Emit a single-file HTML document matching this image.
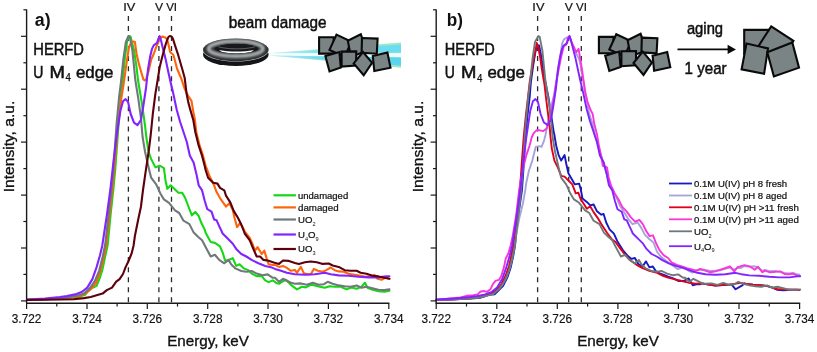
<!DOCTYPE html>
<html><head><meta charset="utf-8"><title>HERFD U M4 edge</title>
<style>html,body{margin:0;padding:0;background:#fff}svg{display:block;filter:blur(0.3px)}text{font-family:"Liberation Sans",sans-serif;fill:#111}</style>
</head><body>
<svg width="817" height="352" viewBox="0 0 817 352">
<defs>
<linearGradient id="rg" x1="0" y1="0" x2="0" y2="1"><stop offset="0" stop-color="#3a3d3e"/><stop offset="0.18" stop-color="#7d8284"/><stop offset="0.36" stop-color="#4a4d4f"/><stop offset="0.6" stop-color="#2a2c2d"/><stop offset="0.8" stop-color="#3c3f40"/><stop offset="1" stop-color="#1c1d1e"/></linearGradient>
<linearGradient id="rh" x1="0" y1="0" x2="1" y2="0"><stop offset="0" stop-color="#222" stop-opacity="0.75"/><stop offset="0.2" stop-color="#222" stop-opacity="0"/><stop offset="0.8" stop-color="#222" stop-opacity="0"/><stop offset="1" stop-color="#222" stop-opacity="0.75"/></linearGradient>
<clipPath id="ringclip"><ellipse cx="235.8" cy="49.7" rx="32.8" ry="11.3"/></clipPath><clipPath id="holeclip"><ellipse cx="236.5" cy="48.7" rx="21.8" ry="4.7"/></clipPath><filter id="rblur" x="-20%" y="-50%" width="140%" height="200%"><feGaussianBlur stdDeviation="1.3"/></filter>
<linearGradient id="bfade" x1="268" y1="0" x2="335" y2="0" gradientUnits="userSpaceOnUse"><stop offset="0" stop-color="#fff" stop-opacity="0.6"/><stop offset="1" stop-color="#fff" stop-opacity="0"/></linearGradient>
</defs>
<rect width="817" height="352" fill="#fff"/>
<g id="panelA">
<path d="M128.4,15.9 V303.2" stroke="#2a2a2a" stroke-width="1.3" stroke-dasharray="5 5.05" fill="none"/>
<path d="M158.9,15.9 V303.2" stroke="#2a2a2a" stroke-width="1.3" stroke-dasharray="5 5.05" fill="none"/>
<path d="M171.5,15.9 V303.2" stroke="#2a2a2a" stroke-width="1.3" stroke-dasharray="5 5.05" fill="none"/>
<g id="beam">
<polygon points="268.5,53.3 401,42.5 401,53.6" fill="#9fe8c4"/>
<polygon points="268.5,53.3 401,44.6 401,52.6" fill="#6cdcf0"/>
<polygon points="268.5,53.5 401,53.6 401,57.4 268.5,55.6" fill="#effcfe"/>
<polygon points="268.5,55.6 401,57.2 401,67.7" fill="#9fe8c4"/>
<polygon points="268.5,55.6 401,57.4 401,65.8" fill="#5ad5ef"/>
<polygon points="268,50 340,44 340,64 268,58" fill="url(#bfade)"/>
</g>
<polyline points="27.0,299.8 45.0,299.3 60.0,298.6 70.0,298.0 78.7,297.0 85.6,294.4 89.8,288.4 93.2,287.6 96.6,285.9 100.0,277.4 102.6,268.9 105.1,256.9 107.7,245.0 110.5,215.6 113.3,190.0 115.2,170.0 117.0,146.0 118.5,125.0 120.8,97.0 122.5,82.0 124.8,59.0 127.0,42.0 128.8,36.0 130.5,36.5 134.1,50.6 136.6,67.6 138.0,80.0 141.7,102.1 145.1,126.0 146.3,137.0 148.6,152.0 151.1,158.9 155.4,167.4 159.6,165.7 163.9,168.2 165.6,181.0 167.3,188.7 170.7,185.3 175.0,189.5 178.4,192.8 182.2,192.8 185.2,198.0 188.6,207.0 191.9,215.3 195.3,211.9 198.7,216.0 201.3,222.8 204.7,229.6 205.6,232.7 210.7,242.0 214.9,242.9 220.0,246.3 222.6,252.3 225.1,260.8 228.6,259.9 232.8,258.2 236.2,265.9 239.6,264.2 243.9,268.4 248.1,270.1 251.6,273.6 256.7,276.1 261.8,276.1 265.2,280.4 268.6,282.1 272.8,280.4 276.3,282.9 279.0,283.8 282.0,281.8 285.9,279.8 290.9,284.8 296.9,289.4 301.9,286.8 305.8,287.4 310.8,284.8 314.8,285.4 319.8,286.8 324.8,287.8 329.7,286.2 334.7,286.8 340.7,286.8 346.6,289.4 351.6,287.4 356.6,288.8 361.6,286.8 365.0,282.8 367.5,287.8 372.5,289.8 378.5,291.3 384.5,291.7 389.4,290.7" fill="none" stroke="#14d814" stroke-width="2.1" stroke-linejoin="round" stroke-linecap="round"/>
<polyline points="27.0,299.8 45.0,299.2 60.0,298.5 70.0,297.6 80.0,296.0 86.0,293.0 90.7,289.3 95.8,283.3 100.0,272.3 103.4,258.6 106.3,245.0 109.4,215.6 112.3,190.0 114.2,170.0 116.2,146.0 117.8,125.0 119.6,112.4 121.3,98.7 123.9,82.0 126.4,64.2 129.0,47.1 131.5,42.0 133.2,41.5 134.9,42.0 136.6,54.0 138.3,61.6 140.9,71.0 143.4,79.5 144.6,80.4 146.0,79.5 148.6,71.0 151.1,59.9 153.7,54.0 156.2,47.1 158.8,41.2 161.3,36.9 163.0,36.6 165.6,37.8 167.3,39.5 169.0,47.1 170.2,52.3 173.3,54.8 175.0,60.8 177.0,68.5 181.3,78.7 184.7,89.0 188.1,95.8 191.5,100.9 193.2,111.1 194.9,119.6 196.3,132.0 199.7,145.7 203.1,155.9 205.7,166.1 207.3,170.0 209.8,176.8 214.1,185.3 216.6,192.1 220.0,198.1 226.0,206.6 229.4,203.2 232.8,210.0 234.5,217.7 237.1,227.1 239.6,223.7 242.2,226.2 245.0,232.0 249.8,237.8 252.4,243.7 255.0,250.6 257.5,247.1 261.8,254.0 264.3,250.6 266.9,259.1 268.6,264.2 272.8,265.0 275.0,264.9 279.0,266.9 283.0,265.9 286.9,267.9 290.9,270.8 294.9,269.9 296.9,272.8 300.9,266.9 303.9,273.4 307.8,274.2 310.8,274.2 313.8,268.9 317.8,270.8 322.8,271.8 326.7,269.9 330.7,267.5 334.7,270.2 338.7,271.4 343.7,271.8 348.6,273.8 354.6,274.8 360.6,275.8 365.5,276.8 370.5,276.2 374.5,274.8 377.5,278.8 381.5,279.8 385.4,277.8 389.4,278.8" fill="none" stroke="#ff640a" stroke-width="2.1" stroke-linejoin="round" stroke-linecap="round"/>
<polyline points="27.0,299.8 45.0,299.2 60.0,298.5 70.0,297.3 77.0,295.8 83.9,293.6 89.8,288.4 94.9,280.8 99.2,270.6 102.6,256.9 105.1,245.0 108.5,215.6 111.4,190.0 113.3,170.0 115.0,146.0 116.5,125.0 119.1,97.0 121.0,82.0 123.4,59.0 125.9,42.0 128.4,36.1 129.8,36.9 132.4,50.6 134.1,67.6 135.3,80.0 138.3,98.7 140.9,117.5 142.6,137.0 145.1,152.0 148.6,167.4 151.1,177.6 156.2,184.4 160.5,193.8 163.9,199.4 169.0,202.8 175.0,210.4 179.2,213.0 183.5,220.7 189.4,224.1 193.7,232.6 198.0,236.8 202.1,240.3 205.6,247.1 210.7,256.5 214.9,254.8 219.2,259.9 224.3,263.3 228.6,259.9 231.1,264.2 235.4,268.4 241.3,271.0 246.4,271.8 251.6,271.0 256.7,273.6 262.6,275.3 267.7,274.4 272.8,277.8 275.0,277.8 279.0,281.8 283.0,278.8 286.9,280.8 290.9,282.8 294.9,283.8 300.9,283.4 306.8,284.8 312.8,282.8 318.8,284.8 323.8,284.2 327.7,281.8 332.7,283.8 338.7,285.4 344.7,286.2 350.6,286.8 356.6,285.4 361.6,287.8 366.5,286.8 372.5,288.2 378.5,289.8 384.5,290.1 389.4,289.4" fill="none" stroke="#70787a" stroke-width="2.1" stroke-linejoin="round" stroke-linecap="round"/>
<polyline points="27.0,299.5 45.0,298.5 60.0,297.0 66.8,296.1 75.3,294.4 82.1,291.8 87.3,287.6 92.4,279.1 96.6,267.1 100.0,255.2 102.2,246.0 106.8,215.6 110.3,190.0 113.6,160.6 116.5,137.0 120.4,110.7 123.0,101.3 125.6,99.1 128.1,102.1 130.7,114.0 134.0,122.6 137.5,125.1 140.9,120.0 143.4,105.5 146.0,88.0 148.0,69.3 150.3,55.7 152.0,48.9 153.7,45.4 157.1,42.9 158.4,38.6 159.6,36.1 161.0,40.3 162.2,45.4 165.6,59.1 168.1,71.0 170.3,81.0 173.3,93.6 176.6,109.2 180.0,121.5 183.5,132.0 186.8,142.0 189.8,155.5 193.6,162.5 196.5,174.4 198.7,185.3 202.1,190.4 204.7,200.7 207.3,209.2 211.5,211.7 214.1,219.4 216.6,220.3 219.2,226.2 220.9,229.6 222.6,233.5 227.7,238.6 232.8,243.7 236.2,248.9 241.3,254.0 246.4,256.5 251.6,259.9 258.4,263.3 265.2,265.9 272.0,267.6 275.0,268.9 281.0,270.8 286.9,272.8 294.9,274.2 304.9,274.8 314.8,274.2 324.8,272.8 330.7,274.2 338.7,275.4 348.6,275.8 358.6,276.8 368.5,277.4 378.5,277.4 386.4,276.4 389.4,276.2" fill="none" stroke="#8124ff" stroke-width="2.1" stroke-linejoin="round" stroke-linecap="round"/>
<polyline points="27.0,300.0 45.0,299.8 60.0,299.5 73.6,299.2 83.9,298.1 90.7,297.0 96.6,295.3 102.6,293.6 106.8,290.1 112.0,287.6 116.2,281.6 119.6,279.1 123.0,274.0 125.6,267.1 128.1,262.0 131.6,253.5 133.5,246.0 134.9,236.0 138.3,219.0 140.9,207.0 143.0,190.0 146.0,169.1 148.6,152.0 150.7,135.0 152.8,114.0 155.4,93.6 157.5,81.0 159.6,67.6 161.7,59.1 163.9,50.6 165.6,44.6 167.3,39.5 168.7,36.6 169.8,36.1 171.6,36.6 172.9,38.6 175.0,45.4 178.4,55.7 180.2,62.0 182.1,68.5 184.7,78.0 186.6,93.8 188.3,102.4 190.7,111.1 193.2,119.6 195.3,132.0 198.7,145.7 202.1,155.9 204.7,166.1 205.6,170.0 208.1,177.7 213.2,182.8 217.5,183.6 220.0,187.9 224.3,190.4 226.0,195.6 230.3,202.4 233.7,210.9 237.9,217.7 241.3,224.5 244.7,233.5 249.8,240.3 253.3,248.9 256.7,256.5 260.1,256.5 263.5,259.9 268.6,260.8 273.7,262.5 279.0,263.9 283.0,260.5 288.9,260.9 294.9,262.9 298.9,263.9 304.9,262.3 310.8,261.5 316.8,262.3 322.8,263.9 328.7,263.5 332.7,265.5 338.7,266.9 344.7,270.2 350.6,270.8 356.6,270.8 360.6,272.8 366.5,273.8 372.5,275.8 378.5,276.4 384.5,277.8 389.4,278.8" fill="none" stroke="#5c000d" stroke-width="2.1" stroke-linejoin="round" stroke-linecap="round"/>
<path d="M26.6,9.4 V303.2" stroke="#1a1a1a" stroke-width="1.4" fill="none"/>
<path d="M26.0,303.2 H389.4" stroke="#1a1a1a" stroke-width="1.4" fill="none"/>
<path d="M21.0,36.3 H26.6" stroke="#1a1a1a" stroke-width="1.2"/>
<path d="M21.0,89.2 H26.6" stroke="#1a1a1a" stroke-width="1.2"/>
<path d="M21.0,142.1 H26.6" stroke="#1a1a1a" stroke-width="1.2"/>
<path d="M21.0,195.1 H26.6" stroke="#1a1a1a" stroke-width="1.2"/>
<path d="M21.0,248.0 H26.6" stroke="#1a1a1a" stroke-width="1.2"/>
<path d="M21.0,300.9 H26.6" stroke="#1a1a1a" stroke-width="1.2"/>
<path d="M23.4,9.8 H26.6" stroke="#1a1a1a" stroke-width="1.2"/>
<path d="M23.4,62.8 H26.6" stroke="#1a1a1a" stroke-width="1.2"/>
<path d="M23.4,115.7 H26.6" stroke="#1a1a1a" stroke-width="1.2"/>
<path d="M23.4,168.6 H26.6" stroke="#1a1a1a" stroke-width="1.2"/>
<path d="M23.4,221.5 H26.6" stroke="#1a1a1a" stroke-width="1.2"/>
<path d="M23.4,274.4 H26.6" stroke="#1a1a1a" stroke-width="1.2"/>
<path d="M26.6,303.2 V309.1" stroke="#1a1a1a" stroke-width="1.2"/>
<path d="M56.8,303.2 V306.5" stroke="#1a1a1a" stroke-width="1.2"/>
<path d="M87.0,303.2 V309.1" stroke="#1a1a1a" stroke-width="1.2"/>
<path d="M117.1,303.2 V306.5" stroke="#1a1a1a" stroke-width="1.2"/>
<path d="M147.3,303.2 V309.1" stroke="#1a1a1a" stroke-width="1.2"/>
<path d="M177.5,303.2 V306.5" stroke="#1a1a1a" stroke-width="1.2"/>
<path d="M207.7,303.2 V309.1" stroke="#1a1a1a" stroke-width="1.2"/>
<path d="M237.9,303.2 V306.5" stroke="#1a1a1a" stroke-width="1.2"/>
<path d="M268.0,303.2 V309.1" stroke="#1a1a1a" stroke-width="1.2"/>
<path d="M298.2,303.2 V306.5" stroke="#1a1a1a" stroke-width="1.2"/>
<path d="M328.4,303.2 V309.1" stroke="#1a1a1a" stroke-width="1.2"/>
<path d="M358.6,303.2 V306.5" stroke="#1a1a1a" stroke-width="1.2"/>
<path d="M388.8,303.2 V309.1" stroke="#1a1a1a" stroke-width="1.2"/>
<text x="26.6" y="322.8" font-size="12.3" stroke="#111" stroke-width="0.15" text-anchor="middle" textLength="29.6" lengthAdjust="spacingAndGlyphs">3.722</text>
<text x="87.0" y="322.8" font-size="12.3" stroke="#111" stroke-width="0.15" text-anchor="middle" textLength="29.6" lengthAdjust="spacingAndGlyphs">3.724</text>
<text x="147.3" y="322.8" font-size="12.3" stroke="#111" stroke-width="0.15" text-anchor="middle" textLength="29.6" lengthAdjust="spacingAndGlyphs">3.726</text>
<text x="207.7" y="322.8" font-size="12.3" stroke="#111" stroke-width="0.15" text-anchor="middle" textLength="29.6" lengthAdjust="spacingAndGlyphs">3.728</text>
<text x="268.0" y="322.8" font-size="12.3" stroke="#111" stroke-width="0.15" text-anchor="middle" textLength="29.6" lengthAdjust="spacingAndGlyphs">3.730</text>
<text x="328.4" y="322.8" font-size="12.3" stroke="#111" stroke-width="0.15" text-anchor="middle" textLength="29.6" lengthAdjust="spacingAndGlyphs">3.732</text>
<text x="388.8" y="322.8" font-size="12.3" stroke="#111" stroke-width="0.15" text-anchor="middle" textLength="29.6" lengthAdjust="spacingAndGlyphs">3.734</text>
<text x="13.8" y="146.5" font-size="15" stroke="#111" stroke-width="0.35" text-anchor="middle" textLength="91.5" lengthAdjust="spacingAndGlyphs" transform="rotate(-90 13.8 146.5)">Intensity, a.u.</text>
<text x="208" y="346.3" font-size="15" stroke="#111" stroke-width="0.35" text-anchor="middle" textLength="81.7" lengthAdjust="spacingAndGlyphs">Energy, keV</text>
<text x="34.8" y="25.6" font-size="18.8" font-weight="bold" textLength="15.8" lengthAdjust="spacingAndGlyphs">a)</text>
<text x="33.3" y="54.7" font-size="15.6" stroke="#111" stroke-width="0.5" textLength="50.6" lengthAdjust="spacingAndGlyphs">HERFD</text>
<text x="33.3" y="77.7" font-size="15.6" stroke="#111" stroke-width="0.5" textLength="10.1" lengthAdjust="spacingAndGlyphs">U</text>
<text x="49.4" y="77.7" font-size="15.6" stroke="#111" stroke-width="0.5" textLength="15.4" lengthAdjust="spacingAndGlyphs">M</text>
<text x="65.4" y="81.4" font-size="10.2" stroke="#111" stroke-width="0.25" textLength="5.4" lengthAdjust="spacingAndGlyphs">4</text>
<text x="75.9" y="77.7" font-size="16.2" stroke="#111" stroke-width="0.5" textLength="37.5" lengthAdjust="spacingAndGlyphs">edge</text>
<text x="129.2" y="11.4" font-size="11.6" text-anchor="middle" textLength="12.1" lengthAdjust="spacingAndGlyphs" stroke="#111" stroke-width="0.2">IV</text>
<text x="159.1" y="11.4" font-size="11.6" text-anchor="middle" textLength="8.1" lengthAdjust="spacingAndGlyphs" stroke="#111" stroke-width="0.2">V</text>
<text x="171.6" y="11.4" font-size="11.6" text-anchor="middle" textLength="10.9" lengthAdjust="spacingAndGlyphs" stroke="#111" stroke-width="0.2">VI</text>
<text x="228.8" y="28.3" font-size="16.3" stroke="#111" stroke-width="0.5" textLength="97.8" lengthAdjust="spacingAndGlyphs">beam damage</text>
<g id="ring">
<ellipse cx="235.8" cy="54.8" rx="32.8" ry="11.1" fill="#141516"/>
<ellipse cx="235.8" cy="50.6" rx="32.8" ry="11.0" fill="#b9bdbd"/>
<ellipse cx="235.8" cy="49.7" rx="32.8" ry="11.3" fill="#2f3233"/>
<g clip-path="url(#ringclip)"><ellipse cx="235.8" cy="48.7" rx="27.2" ry="7.5" fill="none" stroke="#a9aeb0" stroke-width="3.8" filter="url(#rblur)"/></g>
<ellipse cx="236.5" cy="48.7" rx="21.8" ry="4.7" fill="#18191b"/>
<g clip-path="url(#holeclip)"><ellipse cx="236.5" cy="50.0" rx="17" ry="3.4" fill="#ffffff"/><ellipse cx="236.5" cy="47.3" rx="23" ry="4.3" fill="#18191b"/><ellipse cx="236.7" cy="44.6" rx="21" ry="4.3" fill="none" stroke="#8c9092" stroke-width="0.6"/></g>
</g>
<g transform="translate(0,0)"><polygon points="319.1,37.2 333.7,37.3 333.7,53.6 319.1,53.6" fill="#7b8484" stroke="#0a0a0a" stroke-width="2.1" stroke-linejoin="miter"/><polygon points="336.5,34.6 351.5,41.7 344.5,56.8 329.5,49.9" fill="#7b8484" stroke="#0a0a0a" stroke-width="2.1" stroke-linejoin="miter"/><polygon points="347.8,40.7 360.8,34.2 366.6,50.9 350.9,56.8" fill="#7b8484" stroke="#0a0a0a" stroke-width="2.1" stroke-linejoin="miter"/><polygon points="362.0,38.0 377.6,38.6 376.8,53.7 361.6,52.8" fill="#7b8484" stroke="#0a0a0a" stroke-width="2.1" stroke-linejoin="miter"/><polygon points="325.4,56.1 339.4,52.0 340.8,67.5 329.5,71.4" fill="#7b8484" stroke="#0a0a0a" stroke-width="2.1" stroke-linejoin="miter"/><polygon points="341.6,51.6 356.2,51.4 356.2,65.6 341.6,66.6" fill="#7b8484" stroke="#0a0a0a" stroke-width="2.1" stroke-linejoin="miter"/><polygon points="372.8,56.1 387.4,52.5 390.5,67.7 374.3,71.1" fill="#7b8484" stroke="#0a0a0a" stroke-width="2.1" stroke-linejoin="miter"/><polygon points="363.0,52.0 372.1,62.9 363.7,75.3 353.7,63.4" fill="#7b8484" stroke="#0a0a0a" stroke-width="2.1" stroke-linejoin="miter"/></g>
<path d="M273.5,195.3 H295.9" stroke="#14d814" stroke-width="2.2"/>
<path d="M273.5,207.4 H295.9" stroke="#ff640a" stroke-width="2.2"/>
<path d="M273.5,219.5 H295.9" stroke="#70787a" stroke-width="2.2"/>
<path d="M273.5,234.5 H295.9" stroke="#8124ff" stroke-width="2.2"/>
<path d="M273.5,249 H295.9" stroke="#5c000d" stroke-width="2.2"/>
<text x="298" y="198.6" font-size="9.6" stroke="#111" stroke-width="0.22" textLength="50.2" lengthAdjust="spacingAndGlyphs">undamaged</text>
<text x="298" y="210.7" font-size="9.6" stroke="#111" stroke-width="0.22" textLength="40.6" lengthAdjust="spacingAndGlyphs">damaged</text>
<text x="298" y="222.8" font-size="9.6" stroke="#111" stroke-width="0.22">UO<tspan font-size="5.6" dy="2.8" stroke="none">2</tspan></text>
<text x="298" y="237.8" font-size="9.6" stroke="#111" stroke-width="0.22">U<tspan font-size="5.6" dy="2.8" stroke="none">4</tspan><tspan dy="-2.8">O</tspan><tspan font-size="5.6" dy="2.8" stroke="none">9</tspan></text>
<text x="298" y="252.3" font-size="9.6" stroke="#111" stroke-width="0.22">UO<tspan font-size="5.6" dy="2.8" stroke="none">3</tspan></text>
</g>
<g id="panelB">
<path d="M537.6,15.9 V303.2" stroke="#2a2a2a" stroke-width="1.3" stroke-dasharray="5 5.05" fill="none"/>
<path d="M568.7,15.9 V303.2" stroke="#2a2a2a" stroke-width="1.3" stroke-dasharray="5 5.05" fill="none"/>
<path d="M581.3,15.9 V303.2" stroke="#2a2a2a" stroke-width="1.3" stroke-dasharray="5 5.05" fill="none"/>
<polyline points="436.2,300.0 450.0,299.6 460.0,299.0 474.2,298.2 480.1,297.8 485.3,296.1 489.5,294.7 494.6,294.4 498.9,290.1 503.1,285.9 507.4,277.4 510.8,267.1 513.4,255.2 515.1,245.0 516.9,224.1 519.5,207.0 522.0,190.0 523.4,170.0 524.6,150.0 525.4,139.6 527.1,119.2 529.7,97.0 530.9,82.0 533.1,65.9 535.3,52.3 537.4,45.1 539.1,45.4 540.8,54.0 542.5,64.2 544.2,76.1 545.9,84.6 548.4,97.0 551.0,114.1 553.6,131.1 554.4,135.0 556.1,145.2 558.7,155.4 561.2,160.6 564.6,155.1 566.3,164.0 568.4,173.3 571.4,178.4 574.9,184.4 579.1,183.6 580.8,189.5 582.5,198.5 586.8,201.9 590.2,205.3 593.6,204.5 597.0,211.3 601.3,214.7 603.6,214.0 606.2,222.5 609.6,229.3 613.9,233.6 617.3,241.2 618.7,243.5 623.0,250.3 627.3,255.4 631.5,258.9 634.9,258.0 638.3,264.0 642.6,266.5 646.0,261.4 649.4,267.4 652.8,266.5 656.2,271.6 659.6,273.3 663.9,275.0 668.1,276.7 673.3,278.4 678.4,281.0 683.5,281.0 688.6,278.4 692.8,285.3 696.3,284.4 699.7,284.4 701.8,283.4 708.6,284.6 715.5,285.6 722.3,285.1 729.1,284.6 731.7,284.6 735.6,289.3 741.4,285.9 744.5,283.4 746.2,283.9 753.0,284.6 759.8,285.1 766.6,285.9 771.7,287.3 776.9,289.7 783.7,290.3 790.5,289.7 797.3,289.7 799.4,290.0" fill="none" stroke="#1519c4" stroke-width="1.9" stroke-linejoin="round" stroke-linecap="round"/>
<polyline points="436.2,300.0 450.0,299.5 460.0,298.8 473.0,298.0 479.0,297.3 484.0,295.8 488.5,294.3 493.5,293.5 498.0,289.5 502.2,285.0 506.5,277.0 510.0,267.0 512.5,256.0 514.5,245.0 517.0,230.0 519.5,217.3 522.9,203.6 525.3,190.0 526.3,182.7 528.9,170.8 532.3,160.6 535.7,146.9 539.1,146.1 541.6,146.9 544.2,140.1 545.5,135.0 547.6,122.6 551.0,107.3 554.0,95.0 556.3,81.0 558.0,69.0 560.5,55.0 562.1,43.7 563.8,39.5 566.3,37.8 568.9,36.6 571.4,42.0 574.0,48.9 576.5,54.0 579.1,59.1 580.8,65.9 583.0,80.0 585.9,95.3 589.3,114.1 592.7,124.3 595.0,135.0 598.0,145.0 601.0,155.0 604.0,165.0 607.0,175.0 610.0,186.0 613.0,191.0 615.6,195.2 619.8,205.4 624.1,212.3 628.3,219.1 632.6,224.2 637.7,222.5 641.1,227.6 644.8,234.6 649.2,239.0 653.5,242.5 657.1,252.0 661.3,257.1 665.6,260.6 671.6,264.8 677.5,269.1 683.5,267.4 688.6,270.8 692.8,272.5 697.0,270.2 700.1,269.5 705.2,269.8 710.3,271.0 715.5,270.6 720.6,270.2 725.7,268.6 730.0,267.5 734.2,269.5 737.6,268.0 741.0,268.0 744.5,266.0 749.6,266.8 754.7,266.3 758.1,267.5 762.4,271.0 764.9,270.0 770.0,271.3 775.2,271.0 780.3,271.9 784.5,273.0 788.8,273.5 793.1,273.0 796.5,274.3 799.4,274.8" fill="none" stroke="#a5a4da" stroke-width="1.9" stroke-linejoin="round" stroke-linecap="round"/>
<polyline points="436.2,300.0 450.0,299.6 470.0,298.5 485.0,296.0 492.0,293.0 497.0,289.5 501.5,284.0 505.5,276.0 509.0,266.0 511.5,255.0 513.3,245.0 515.6,224.0 518.0,207.0 519.6,190.0 520.8,177.6 522.0,160.0 523.5,139.6 524.3,131.0 526.0,114.1 528.0,97.0 529.7,82.0 531.6,71.0 534.1,57.4 536.3,46.3 536.7,42.9 538.2,47.1 539.9,55.7 541.6,67.6 543.3,77.8 544.5,84.6 545.9,97.0 547.6,110.7 549.6,126.0 550.3,135.0 551.8,148.6 554.4,160.6 557.8,167.4 561.2,175.9 564.6,176.7 568.9,181.0 572.3,184.4 574.9,191.2 575.7,193.4 578.3,192.6 580.8,199.4 584.2,204.5 586.8,208.7 590.2,206.2 593.6,212.1 597.8,218.1 601.3,224.1 604.7,229.2 607.0,232.7 612.1,239.5 615.3,241.8 620.4,248.6 625.6,255.4 630.7,260.6 636.6,264.8 642.6,268.2 649.4,270.8 656.2,272.5 663.0,275.9 668.1,277.6 675.0,279.3 681.8,281.0 688.6,282.7 695.4,283.6 701.8,283.4 708.6,284.6 715.5,285.6 722.3,285.1 729.1,284.6 734.2,283.9 741.0,282.9 746.2,283.9 753.0,284.6 759.8,285.1 766.6,285.9 771.7,287.3 776.9,289.0 783.7,289.3 790.5,289.7 797.3,289.7 799.4,290.0" fill="none" stroke="#e0001c" stroke-width="1.9" stroke-linejoin="round" stroke-linecap="round"/>
<polyline points="435.9,299.9 443.5,299.2 452.0,298.3 460.6,297.5 466.5,295.8 473.3,295.3 477.6,294.4 480.1,291.8 483.6,291.0 487.0,291.8 490.4,289.3 492.9,284.2 495.5,280.8 498.9,279.9 501.4,275.7 504.0,267.1 505.7,258.6 508.3,253.5 510.5,246.0 512.7,236.0 516.1,215.6 518.6,194.6 520.3,182.7 522.9,169.1 526.3,155.4 529.7,145.2 531.8,137.0 534.0,132.8 536.5,130.3 539.9,130.3 543.3,131.1 546.7,128.6 549.6,120.9 551.8,109.0 554.4,95.3 556.3,82.0 558.7,69.3 561.2,56.5 563.8,46.3 566.3,44.6 568.0,37.8 569.4,36.1 571.4,42.0 574.0,47.1 576.2,52.3 578.6,48.9 580.0,57.4 581.7,67.6 583.4,79.5 584.2,84.6 585.1,91.9 587.6,102.1 590.2,109.0 592.7,114.1 594.4,124.3 597.0,134.5 598.5,143.6 601.1,155.6 602.8,165.8 607.0,167.5 608.7,177.7 611.3,186.2 613.0,189.6 614.7,193.5 619.0,200.3 622.4,207.1 626.6,211.4 630.9,217.4 635.1,221.6 639.4,219.9 642.8,224.2 646.2,231.0 649.6,236.1 653.0,235.3 656.2,243.5 659.6,250.3 663.9,255.4 668.1,258.0 671.6,262.3 676.7,264.8 681.8,266.5 686.9,268.2 693.7,269.9 697.0,270.6 700.1,268.9 705.2,270.6 710.3,272.3 715.5,271.4 720.6,269.7 725.7,268.0 730.0,266.3 734.2,271.4 737.6,267.2 744.5,265.1 749.6,266.3 754.7,269.7 758.1,266.8 762.4,272.3 764.9,270.6 770.0,272.3 775.2,271.9 780.3,271.4 784.5,274.0 788.8,274.3 793.1,273.6 796.5,275.4 799.4,276.0" fill="none" stroke="#f936de" stroke-width="1.9" stroke-linejoin="round" stroke-linecap="round"/>
<polyline points="436.6,299.8 454.7,299.2 469.7,298.5 479.7,297.3 486.8,295.8 493.7,293.6 499.6,288.4 504.7,280.8 509.0,270.6 512.5,256.9 515.0,245.0 518.4,215.6 521.2,190.0 522.8,170.0 524.2,146.0 525.6,125.0 528.2,97.0 530.1,82.0 532.5,59.0 535.0,42.0 538.3,36.1 539.7,36.9 542.4,50.6 544.1,67.6 545.3,80.0 548.3,98.7 550.9,117.5 552.6,137.0 555.1,152.0 558.6,167.4 561.1,177.6 566.2,184.4 570.5,193.8 574.0,199.4 579.1,202.8 585.1,210.4 589.3,213.0 593.6,220.7 599.5,224.1 603.9,232.6 608.2,236.8 612.3,240.3 615.8,247.1 620.9,256.5 625.1,254.8 629.4,259.9 634.6,263.3 638.9,259.9 641.4,264.2 645.7,268.4 651.6,271.0 656.7,271.8 661.9,271.0 667.1,273.6 673.0,275.3 678.1,274.4 683.2,277.8 685.4,277.8 689.4,281.8 693.4,278.8 697.4,280.8 701.4,282.8 705.4,283.8 711.4,283.4 717.3,284.8 723.3,282.8 729.4,284.8 734.4,284.2 738.3,281.8 743.3,283.8 749.3,285.4 755.4,286.2 761.3,286.8 767.3,285.4 772.3,287.8 777.2,286.8 783.2,288.2 789.3,289.8 795.3,290.1 800.2,289.4" fill="none" stroke="#70787a" stroke-width="1.9" stroke-linejoin="round" stroke-linecap="round"/>
<polyline points="436.6,299.5 454.7,298.5 469.7,297.0 476.5,296.1 485.1,294.4 491.9,291.8 497.1,287.6 502.2,279.1 506.4,267.1 509.8,255.2 512.1,246.0 516.7,215.6 520.2,190.0 523.5,160.6 526.4,137.0 530.3,110.7 532.9,101.3 535.5,99.1 538.0,102.1 540.6,114.0 544.0,122.6 547.5,125.1 550.9,120.0 553.4,105.5 556.0,88.0 558.0,69.3 560.3,55.7 562.0,48.9 563.7,45.4 567.1,42.9 568.4,38.6 569.6,36.1 571.0,40.3 572.2,45.4 575.7,59.1 578.2,71.0 580.4,81.0 583.4,93.6 586.7,109.2 590.1,121.5 593.6,132.0 596.9,142.0 599.9,155.5 603.8,162.5 606.7,174.4 608.9,185.3 612.3,190.4 614.9,200.7 617.5,209.2 621.7,211.7 624.3,219.4 626.8,220.3 629.4,226.2 631.1,229.6 632.8,233.5 638.0,238.6 643.1,243.7 646.5,248.9 651.6,254.0 656.7,256.5 661.9,259.9 668.8,263.3 675.6,265.9 682.4,267.6 685.4,268.9 691.4,270.8 697.4,272.8 705.4,274.2 715.4,274.8 725.4,274.2 735.4,272.8 741.3,274.2 749.3,275.4 759.3,275.8 769.3,276.8 779.2,277.4 789.3,277.4 797.2,276.4 800.2,276.2" fill="none" stroke="#8124ff" stroke-width="1.9" stroke-linejoin="round" stroke-linecap="round"/>
<path d="M436.2,9.4 V303.2" stroke="#1a1a1a" stroke-width="1.4" fill="none"/>
<path d="M435.6,303.2 H800.2" stroke="#1a1a1a" stroke-width="1.4" fill="none"/>
<path d="M430.6,36.3 H436.2" stroke="#1a1a1a" stroke-width="1.2"/>
<path d="M430.6,89.2 H436.2" stroke="#1a1a1a" stroke-width="1.2"/>
<path d="M430.6,142.1 H436.2" stroke="#1a1a1a" stroke-width="1.2"/>
<path d="M430.6,195.1 H436.2" stroke="#1a1a1a" stroke-width="1.2"/>
<path d="M430.6,248.0 H436.2" stroke="#1a1a1a" stroke-width="1.2"/>
<path d="M430.6,300.9 H436.2" stroke="#1a1a1a" stroke-width="1.2"/>
<path d="M433.0,9.8 H436.2" stroke="#1a1a1a" stroke-width="1.2"/>
<path d="M433.0,62.8 H436.2" stroke="#1a1a1a" stroke-width="1.2"/>
<path d="M433.0,115.7 H436.2" stroke="#1a1a1a" stroke-width="1.2"/>
<path d="M433.0,168.6 H436.2" stroke="#1a1a1a" stroke-width="1.2"/>
<path d="M433.0,221.5 H436.2" stroke="#1a1a1a" stroke-width="1.2"/>
<path d="M433.0,274.4 H436.2" stroke="#1a1a1a" stroke-width="1.2"/>
<path d="M436.2,303.2 V309.1" stroke="#1a1a1a" stroke-width="1.2"/>
<path d="M466.5,303.2 V306.5" stroke="#1a1a1a" stroke-width="1.2"/>
<path d="M496.8,303.2 V309.1" stroke="#1a1a1a" stroke-width="1.2"/>
<path d="M527.0,303.2 V306.5" stroke="#1a1a1a" stroke-width="1.2"/>
<path d="M557.3,303.2 V309.1" stroke="#1a1a1a" stroke-width="1.2"/>
<path d="M587.6,303.2 V306.5" stroke="#1a1a1a" stroke-width="1.2"/>
<path d="M617.9,303.2 V309.1" stroke="#1a1a1a" stroke-width="1.2"/>
<path d="M648.2,303.2 V306.5" stroke="#1a1a1a" stroke-width="1.2"/>
<path d="M678.4,303.2 V309.1" stroke="#1a1a1a" stroke-width="1.2"/>
<path d="M708.7,303.2 V306.5" stroke="#1a1a1a" stroke-width="1.2"/>
<path d="M739.0,303.2 V309.1" stroke="#1a1a1a" stroke-width="1.2"/>
<path d="M769.3,303.2 V306.5" stroke="#1a1a1a" stroke-width="1.2"/>
<path d="M799.6,303.2 V309.1" stroke="#1a1a1a" stroke-width="1.2"/>
<text x="436.2" y="322.8" font-size="12.3" stroke="#111" stroke-width="0.15" text-anchor="middle" textLength="29.6" lengthAdjust="spacingAndGlyphs">3.722</text>
<text x="496.8" y="322.8" font-size="12.3" stroke="#111" stroke-width="0.15" text-anchor="middle" textLength="29.6" lengthAdjust="spacingAndGlyphs">3.724</text>
<text x="557.3" y="322.8" font-size="12.3" stroke="#111" stroke-width="0.15" text-anchor="middle" textLength="29.6" lengthAdjust="spacingAndGlyphs">3.726</text>
<text x="617.9" y="322.8" font-size="12.3" stroke="#111" stroke-width="0.15" text-anchor="middle" textLength="29.6" lengthAdjust="spacingAndGlyphs">3.728</text>
<text x="678.4" y="322.8" font-size="12.3" stroke="#111" stroke-width="0.15" text-anchor="middle" textLength="29.6" lengthAdjust="spacingAndGlyphs">3.730</text>
<text x="739.0" y="322.8" font-size="12.3" stroke="#111" stroke-width="0.15" text-anchor="middle" textLength="29.6" lengthAdjust="spacingAndGlyphs">3.732</text>
<text x="799.6" y="322.8" font-size="12.3" stroke="#111" stroke-width="0.15" text-anchor="middle" textLength="29.6" lengthAdjust="spacingAndGlyphs">3.734</text>
<text x="423.4" y="146.5" font-size="15" stroke="#111" stroke-width="0.35" text-anchor="middle" textLength="91.5" lengthAdjust="spacingAndGlyphs" transform="rotate(-90 423.4 146.5)">Intensity, a.u.</text>
<text x="618" y="346.3" font-size="15" stroke="#111" stroke-width="0.35" text-anchor="middle" textLength="81.7" lengthAdjust="spacingAndGlyphs">Energy, keV</text>
<text x="446.8" y="26.3" font-size="18.8" font-weight="bold" textLength="16.2" lengthAdjust="spacingAndGlyphs">b)</text>
<text x="444.8" y="54.9" font-size="15.6" stroke="#111" stroke-width="0.5" textLength="50" lengthAdjust="spacingAndGlyphs">HERFD</text>
<text x="444.8" y="77.9" font-size="15.6" stroke="#111" stroke-width="0.5" textLength="10.1" lengthAdjust="spacingAndGlyphs">U</text>
<text x="460.9" y="77.9" font-size="15.6" stroke="#111" stroke-width="0.5" textLength="15.4" lengthAdjust="spacingAndGlyphs">M</text>
<text x="476.9" y="81.6" font-size="10.2" stroke="#111" stroke-width="0.25" textLength="5.4" lengthAdjust="spacingAndGlyphs">4</text>
<text x="487.4" y="77.9" font-size="16.2" stroke="#111" stroke-width="0.5" textLength="37.5" lengthAdjust="spacingAndGlyphs">edge</text>
<text x="538.4" y="11.4" font-size="11.6" text-anchor="middle" textLength="12.1" lengthAdjust="spacingAndGlyphs" stroke="#111" stroke-width="0.2">IV</text>
<text x="568.9" y="11.4" font-size="11.6" text-anchor="middle" textLength="8.1" lengthAdjust="spacingAndGlyphs" stroke="#111" stroke-width="0.2">V</text>
<text x="581.5" y="11.4" font-size="11.6" text-anchor="middle" textLength="10.9" lengthAdjust="spacingAndGlyphs" stroke="#111" stroke-width="0.2">VI</text>
<g transform="translate(279.8,-0.4)"><polygon points="319.1,37.2 333.7,37.3 333.7,53.6 319.1,53.6" fill="#7b8484" stroke="#0a0a0a" stroke-width="2.1" stroke-linejoin="miter"/><polygon points="336.5,34.6 351.5,41.7 344.5,56.8 329.5,49.9" fill="#7b8484" stroke="#0a0a0a" stroke-width="2.1" stroke-linejoin="miter"/><polygon points="347.8,40.7 360.8,34.2 366.6,50.9 350.9,56.8" fill="#7b8484" stroke="#0a0a0a" stroke-width="2.1" stroke-linejoin="miter"/><polygon points="362.0,38.0 377.6,38.6 376.8,53.7 361.6,52.8" fill="#7b8484" stroke="#0a0a0a" stroke-width="2.1" stroke-linejoin="miter"/><polygon points="325.4,56.1 339.4,52.0 340.8,67.5 329.5,71.4" fill="#7b8484" stroke="#0a0a0a" stroke-width="2.1" stroke-linejoin="miter"/><polygon points="341.6,51.6 356.2,51.4 356.2,65.6 341.6,66.6" fill="#7b8484" stroke="#0a0a0a" stroke-width="2.1" stroke-linejoin="miter"/><polygon points="372.8,56.1 387.4,52.5 390.5,67.7 374.3,71.1" fill="#7b8484" stroke="#0a0a0a" stroke-width="2.1" stroke-linejoin="miter"/><polygon points="363.0,52.0 372.1,62.9 363.7,75.3 353.7,63.4" fill="#7b8484" stroke="#0a0a0a" stroke-width="2.1" stroke-linejoin="miter"/></g>
<path d="M677.5,49.4 H729" stroke="#0a0a0a" stroke-width="1.9" fill="none"/>
<polygon points="736,49.4 727.6,44.8 727.6,54" fill="#0a0a0a"/>
<text x="686.9" y="34.1" font-size="16.3" stroke="#111" stroke-width="0.5" textLength="36.2" lengthAdjust="spacingAndGlyphs">aging</text>
<text x="684.6" y="74.3" font-size="16.3" stroke="#111" stroke-width="0.5" textLength="42" lengthAdjust="spacingAndGlyphs">1 year</text>
<polygon points="744.2,29.9 768.5,29.9 768.5,53.9 744.2,53.9" fill="#7b8484" stroke="#0a0a0a" stroke-width="2.1" stroke-linejoin="miter"/>
<polygon points="771.2,26.4 793.4,40.8 779.0,63.0 756.8,48.6" fill="#7b8484" stroke="#0a0a0a" stroke-width="2.1" stroke-linejoin="miter"/>
<polygon points="746.5,43.6 768.0,48.4 764.1,73.8 741.6,69.4" fill="#7b8484" stroke="#0a0a0a" stroke-width="2.1" stroke-linejoin="miter"/>
<polygon points="767.3,52.3 792.3,42.5 799.0,67.7 773.9,76.5" fill="#7b8484" stroke="#0a0a0a" stroke-width="2.1" stroke-linejoin="miter"/>
<path d="M669,183.5 H692" stroke="#1519c4" stroke-width="1.8"/>
<text x="694" y="186.9" font-size="9.6" stroke="#111" stroke-width="0.22" textLength="93.1" lengthAdjust="spacingAndGlyphs">0.1M U(IV) pH 8 fresh</text>
<path d="M669,195.5 H692" stroke="#a5a4da" stroke-width="1.8"/>
<text x="694" y="198.9" font-size="9.6" stroke="#111" stroke-width="0.22" textLength="93.1" lengthAdjust="spacingAndGlyphs">0.1M U(IV) pH 8 aged</text>
<path d="M669,207.3 H692" stroke="#e0001c" stroke-width="1.8"/>
<text x="694" y="210.7" font-size="9.6" stroke="#111" stroke-width="0.22" textLength="104.8" lengthAdjust="spacingAndGlyphs">0.1M U(IV) pH &gt;11 fresh</text>
<path d="M669,219.3 H692" stroke="#f936de" stroke-width="1.8"/>
<text x="694" y="222.7" font-size="9.6" stroke="#111" stroke-width="0.22" textLength="104.8" lengthAdjust="spacingAndGlyphs">0.1M U(IV) pH &gt;11 aged</text>
<path d="M669,231.3 H692" stroke="#6c7580" stroke-width="1.8"/>
<path d="M669,246.2 H692" stroke="#8124ff" stroke-width="1.8"/>
<text x="694" y="234.7" font-size="9.6" stroke="#111" stroke-width="0.22">UO<tspan font-size="5.6" dy="2.8" stroke="none">2</tspan></text>
<text x="694" y="249.6" font-size="9.6" stroke="#111" stroke-width="0.22">U<tspan font-size="5.6" dy="2.8" stroke="none">4</tspan><tspan dy="-2.8">O</tspan><tspan font-size="5.6" dy="2.8" stroke="none">9</tspan></text>
</g>
</svg>
</body></html>
